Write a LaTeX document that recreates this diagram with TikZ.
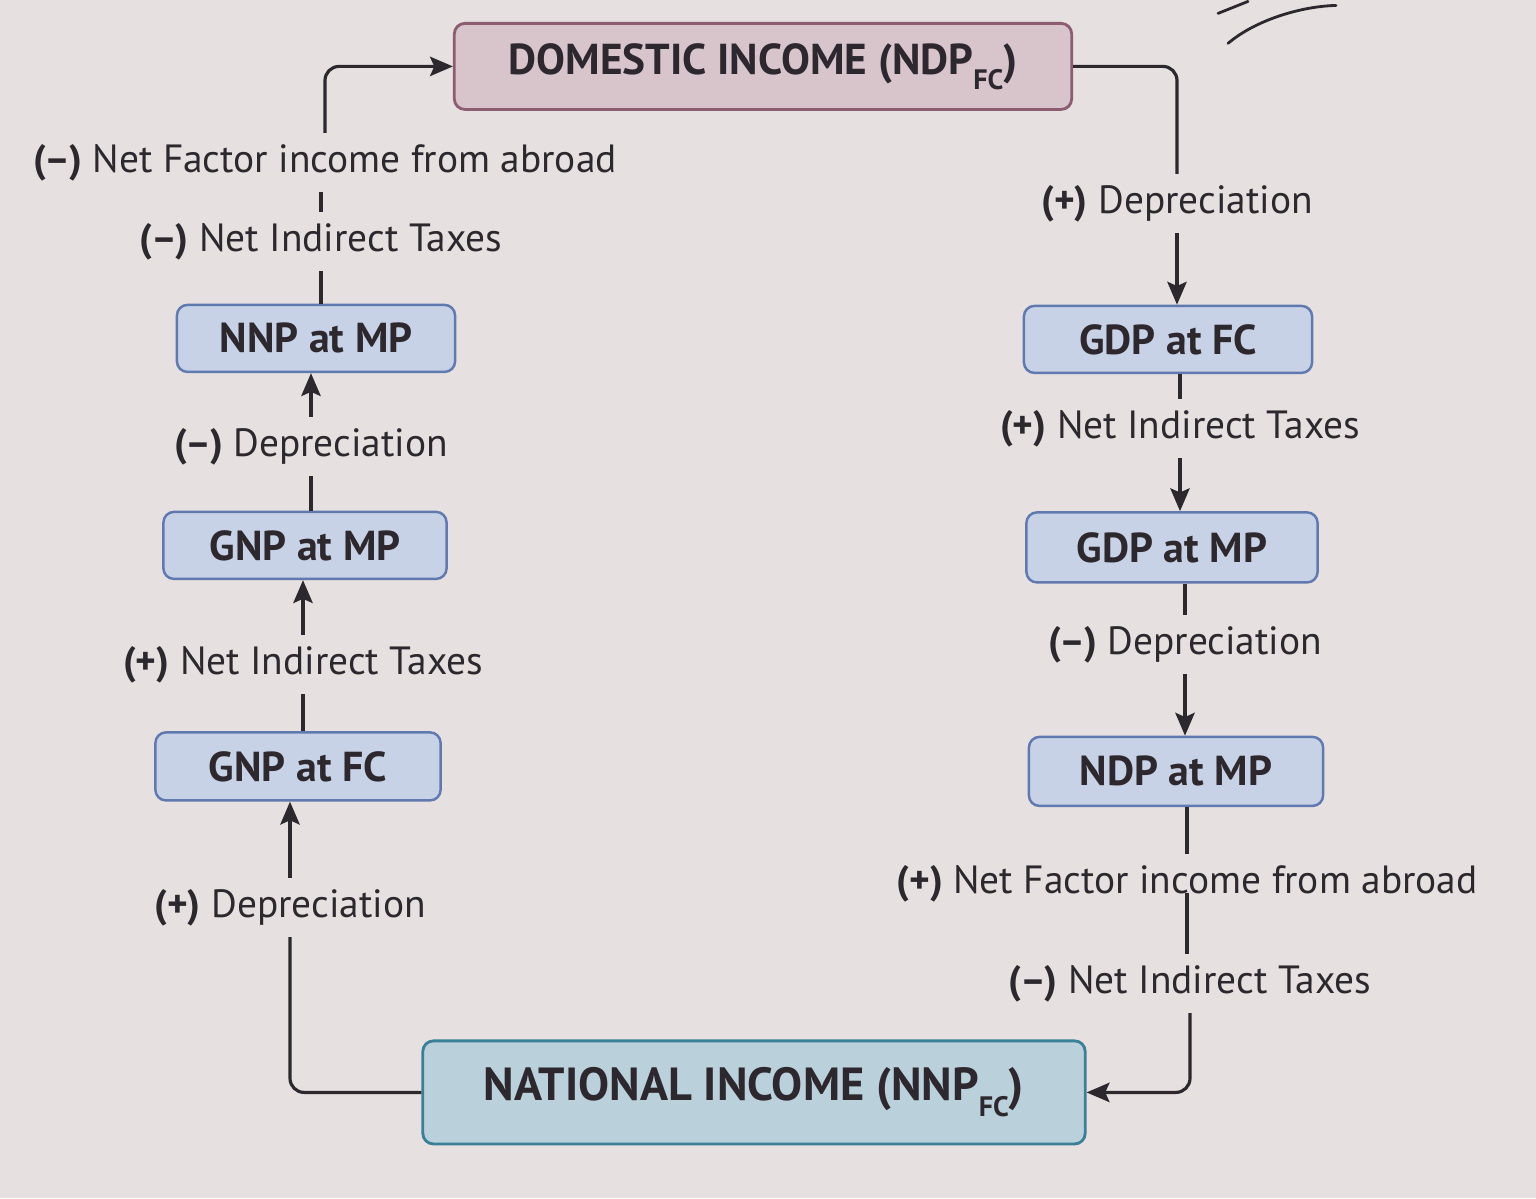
\documentclass[tikz,border=0pt]{standalone}
\usepackage{fontspec}
\setmainfont{PT Sans}
\usetikzlibrary{arrows.meta, calc}
\usepackage{xcolor}

\definecolor{paper}{RGB}{230,224,224}
\definecolor{pinkbox}{RGB}{216,197,204}
\definecolor{pinkline}{RGB}{140,92,112}
\definecolor{bluebox}{RGB}{200,210,230}
\definecolor{blueline}{RGB}{96,122,176}
\definecolor{tealbox}{RGB}{186,208,219}
\definecolor{tealline}{RGB}{58,128,152}
\definecolor{ink}{RGB}{45,40,45}

\newcommand{\lowsub}[1]{\raisebox{-0.7ex}{\fontsize{8}{9}\selectfont #1}}
\newcommand{\sgn}[1]{\textbf{(#1)}}

\tikzset{
  stagebox/.style={draw=blueline, fill=bluebox, line width=0.7pt, rounded corners=3pt,
    text=ink, font=\bfseries\fontsize{11.9}{13}\selectfont, minimum height=0.67cm},
  incomebox/.style={line width=0.8pt, rounded corners=3pt, text=ink, inner sep=0pt},
  lbl/.style={text=ink, font=\fontsize{11.2}{13}\selectfont, inner sep=3pt},
  link/.style={draw=ink, line width=0.9pt},
  arr/.style={link, -{Stealth[length=6.5pt, width=5.5pt, inset=1.2pt]}}
}

\begin{document}
\begin{tikzpicture}[x=0.01cm, y=-0.01cm]
        % Paper background
        \fill[paper] (0,0) rectangle (1536,1198);

        % Pen marks in the corner
        \draw[ink, line width=0.8pt, line cap=round] (1218,13) .. controls (1228,9) and (1238,5) .. (1248,1);
        \draw[ink, line width=0.8pt, line cap=round] (1228,43) .. controls (1255,20) and (1300,6) .. (1336,5);

        % Income boxes
        \node[incomebox, draw=pinkline, fill=pinkbox, minimum width=6.17cm, minimum height=0.86cm,
              font=\bfseries\fontsize{12.3}{14}\selectfont] (dom) at (763,66) {DOMESTIC INCOME (NDP\lowsub{FC})};
        \node[incomebox, draw=tealline, fill=tealbox, minimum width=6.62cm, minimum height=1.03cm,
              font=\bfseries\fontsize{13.2}{15}\selectfont] (ni) at (754,1092) {NATIONAL INCOME (NNP\lowsub{FC})};

        % Left column: national income back to domestic income
        \node[lbl] (lnfia) at (325,162) {\sgn{--} Net Factor income from abroad};
        \node[lbl] (lnit) at (321,241) {\sgn{--} Net Indirect Taxes};
        \node[stagebox, minimum width=2.78cm] (nnpmp) at (316,338) {NNP at MP};
        \node[lbl] (ldep) at (311,446) {\sgn{--} Depreciation};
        \node[stagebox, minimum width=2.83cm] (gnpmp) at (305,545) {GNP at MP};
        \node[lbl] (lnitb) at (303,664) {\sgn{+} Net Indirect Taxes};
        \node[stagebox, minimum width=2.85cm, minimum height=0.68cm] (gnpfc) at (298,766) {GNP at FC};
        \node[lbl] (ldepb) at (290,907) {\sgn{+} Depreciation};

        % Right column: domestic income down to national income
        \node[lbl] (rdep) at (1177,203) {\sgn{+} Depreciation};
        \node[stagebox, minimum width=2.88cm] (gdpfc) at (1168,339) {GDP at FC};
        \node[lbl] (rnit) at (1180,428) {\sgn{+} Net Indirect Taxes};
        \node[stagebox, minimum width=2.91cm, minimum height=0.70cm] (gdpmp) at (1172,547) {GDP at MP};
        \node[lbl] (rdepb) at (1185,644) {\sgn{--} Depreciation};
        \node[stagebox, minimum width=2.94cm, minimum height=0.69cm] (ndpmp) at (1176,771) {NDP at MP};
        \node[lbl] (rnfia) at (1187,883) {\sgn{+} Net Factor income from abroad};
        \node[lbl] (rnitb) at (1190,983) {\sgn{--} Net Indirect Taxes};

        % Left connectors
        \draw[link, rounded corners=4pt] (ni.west) -| (ldepb.south);
        \draw[arr] (ldepb.north) -- (ldepb.north |- gnpfc.south);
        \draw[link] (lnitb.south |- gnpfc.north) -- (lnitb.south);
        \draw[arr] (lnitb.north) -- (lnitb.north |- gnpmp.south);
        \draw[link] (ldep.south |- gnpmp.north) -- (ldep.south);
        \draw[arr] (ldep.north) -- (ldep.north |- nnpmp.south);
        \draw[link] (lnit.south |- nnpmp.north) -- (lnit.south);
        \draw[link] (lnit.north) -- (lnit.north |- lnfia.south);
        \draw[arr, rounded corners=4pt] (lnfia.north) |- (dom.west);

        % Right connectors
        \draw[link, rounded corners=4pt] (dom.east) -| (rdep.north);
        \draw[arr] (rdep.south) -- (rdep.south |- gdpfc.north);
        \draw[link] (rnit.north |- gdpfc.south) -- (rnit.north);
        \draw[arr] (rnit.south) -- (rnit.south |- gdpmp.north);
        \draw[link] (rdepb.north |- gdpmp.south) -- (rdepb.north);
        \draw[arr] (rdepb.south) -- (rdepb.south |- ndpmp.north);
        \draw[link] (rnfia.north |- ndpmp.south) -- (rnfia.north);
        \draw[link] (rnfia.base) -- (rnfia.base |- rnitb.north);
        \draw[arr, rounded corners=4pt] (rnitb.south) |- (ni.east);

\end{tikzpicture}
\end{document}
